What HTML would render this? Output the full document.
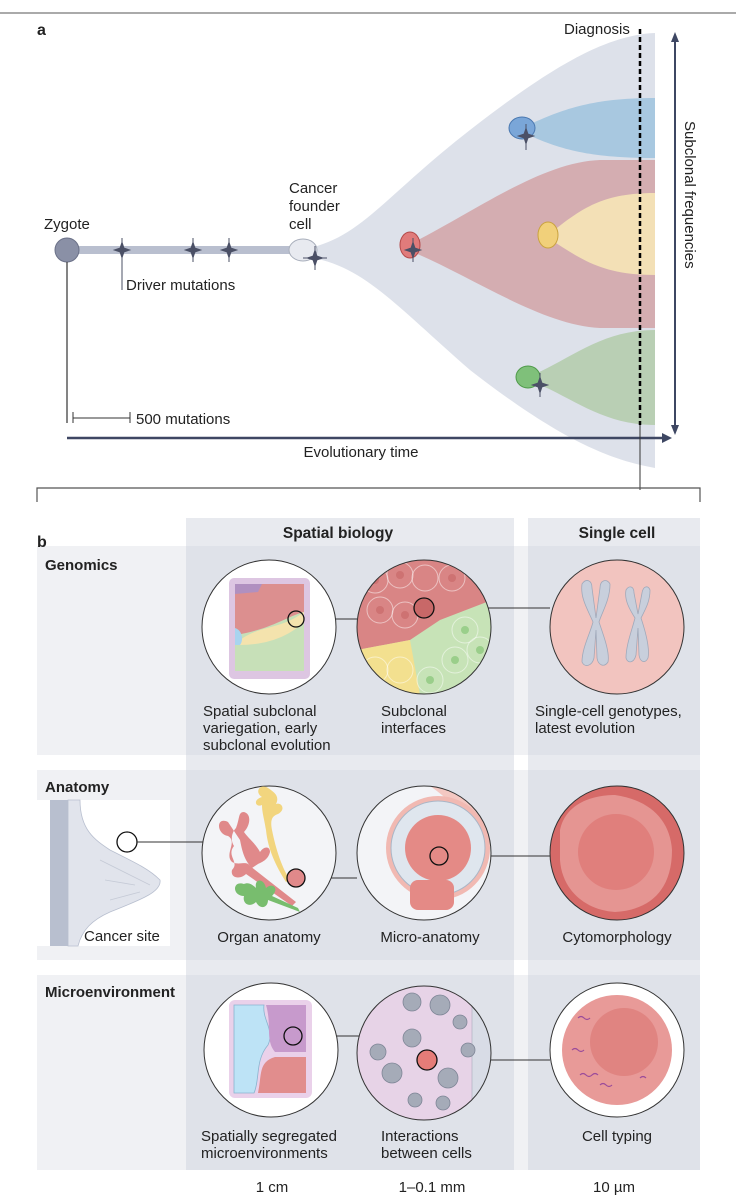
<!DOCTYPE html>
<html><head><meta charset="utf-8"><style>
html,body{margin:0;padding:0;background:#fff;overflow:hidden}
svg{display:block}
text{font-family:"Liberation Sans",sans-serif;fill:#222}
</style></head><body>
<svg width="736" height="1200" viewBox="0 0 736 1200" xmlns="http://www.w3.org/2000/svg">
<defs>
<clipPath id="c1"><circle cx="424" cy="627" r="67"/></clipPath>
<clipPath id="c5"><circle cx="424" cy="853" r="67"/></clipPath>
<clipPath id="c8"><circle cx="424" cy="1053" r="67"/></clipPath>
</defs>
<line x1="0" y1="13" x2="736" y2="13" stroke="#777" stroke-width="1.2"/>
<text x="37" y="35" font-size="16" font-weight="bold">a</text>

<path d="M300,250 C360,240 380,200 470,130 C560,60 610,35 655,33 L655,468 C610,460 560,440 470,370 C390,300 360,262 300,256 Z" fill="#dde1ea"/>
<path d="M522,128 C560,110 590,98 655,98 L655,158 C590,158 560,150 522,132 Z" fill="#a8c8e0"/>
<path d="M408,245 C470,215 540,162 600,160 L655,160 L655,328 L600,328 C540,325 470,275 408,250 Z" fill="#d4adb1"/>
<path d="M548,235 C580,210 600,193 655,193 L655,275 C600,275 580,258 548,238 Z" fill="#f3e0b6"/>
<path d="M528,377 C570,360 600,330 655,330 L655,425 C600,425 570,395 528,380 Z" fill="#b9cfb4"/>
<ellipse cx="522" cy="128" rx="13" ry="11" fill="#7aa6d8" stroke="#4a78b0"/>
<ellipse cx="410" cy="245" rx="10" ry="13" fill="#e07b7b" stroke="#b44a4a"/>
<ellipse cx="548" cy="235" rx="10" ry="13" fill="#f1d07a" stroke="#caa340"/>
<ellipse cx="528" cy="377" rx="12" ry="11" fill="#7fc07a" stroke="#4f9a4a"/>
<rect x="67" y="246" width="235" height="8" fill="#b9bfcf"/>
<circle cx="67" cy="250" r="12" fill="#8a90a6" stroke="#6b7188"/>
<ellipse cx="303" cy="250" rx="14" ry="11" fill="#e8eaf0" stroke="#a8aebb"/>
<g fill="#4b5066" stroke="#4b5066" stroke-width="0.8">
<path transform="translate(122,250)" d="M0,-8 L2,-2 L8,0 L2,2 L0,8 L-2,2 L-8,0 L-2,-2Z"/>
<path transform="translate(193,250)" d="M0,-8 L2,-2 L8,0 L2,2 L0,8 L-2,2 L-8,0 L-2,-2Z"/>
<path transform="translate(229,250)" d="M0,-8 L2,-2 L8,0 L2,2 L0,8 L-2,2 L-8,0 L-2,-2Z"/>
<path transform="translate(315,258)" d="M0,-8 L2,-2 L8,0 L2,2 L0,8 L-2,2 L-8,0 L-2,-2Z"/>
<path transform="translate(413,250)" d="M0,-8 L2,-2 L8,0 L2,2 L0,8 L-2,2 L-8,0 L-2,-2Z"/>
<path transform="translate(526,136)" d="M0,-8 L2,-2 L8,0 L2,2 L0,8 L-2,2 L-8,0 L-2,-2Z"/>
<path transform="translate(540,385)" d="M0,-8 L2,-2 L8,0 L2,2 L0,8 L-2,2 L-8,0 L-2,-2Z"/>
</g>
<g stroke="#4b5066" stroke-width="1">
<line x1="122" y1="238" x2="122" y2="290"/><line x1="193" y1="238" x2="193" y2="262"/><line x1="229" y1="238" x2="229" y2="262"/>
<line x1="315" y1="246" x2="315" y2="270"/><line x1="303" y1="258" x2="327" y2="258"/>
<line x1="413" y1="238" x2="413" y2="262"/><line x1="526" y1="124" x2="526" y2="150"/><line x1="540" y1="373" x2="540" y2="397"/>
</g>
<g font-size="15">
<text x="44" y="229">Zygote</text>
<text x="126" y="290">Driver mutations</text>
<text x="289" y="193">Cancer</text>
<text x="289" y="211">founder</text>
<text x="289" y="229">cell</text>
</g>
<line x1="67" y1="262" x2="67" y2="423" stroke="#333" stroke-width="1.2"/>
<line x1="73" y1="412" x2="73" y2="423" stroke="#333"/><line x1="73" y1="418" x2="130" y2="418" stroke="#333"/><line x1="130" y1="412" x2="130" y2="423" stroke="#333"/>
<text x="136" y="424" font-size="15">500 mutations</text>
<line x1="67" y1="438" x2="664" y2="438" stroke="#3e4763" stroke-width="2.5"/>
<path d="M672,438 L662,433 L662,443Z" fill="#3e4763"/>
<text x="361" y="457" font-size="15" text-anchor="middle">Evolutionary time</text>
<line x1="675" y1="40" x2="675" y2="427" stroke="#3e4763" stroke-width="2"/>
<path d="M675,32 L671,42 L679,42Z M675,435 L671,425 L679,425Z" fill="#3e4763"/>
<text transform="translate(685,121) rotate(90)" font-size="15">Subclonal frequencies</text>
<text x="564" y="34" font-size="15">Diagnosis</text>
<line x1="640" y1="29" x2="640" y2="425" stroke="#000" stroke-width="2.5" stroke-dasharray="5,3"/>
<line x1="640" y1="425" x2="640" y2="490" stroke="#333"/>
<path d="M37,502 L37,488 L700,488 L700,502" fill="none" stroke="#555" stroke-width="1.2"/>

<rect x="186" y="518" width="328" height="652" fill="#e8eaef"/>
<rect x="528" y="518" width="172" height="652" fill="#e8eaef"/>
<rect x="37" y="546" width="663" height="209" fill="#f0f1f4"/>
<rect x="37" y="770" width="663" height="190" fill="#f0f1f4"/>
<rect x="37" y="975" width="663" height="195" fill="#f0f1f4"/>
<g fill="#dfe2e9">
<rect x="186" y="546" width="328" height="209"/><rect x="528" y="546" width="172" height="209"/>
<rect x="186" y="770" width="328" height="190"/><rect x="528" y="770" width="172" height="190"/>
<rect x="186" y="975" width="328" height="195"/><rect x="528" y="975" width="172" height="195"/>
</g>
<text x="37" y="547" font-size="16" font-weight="bold">b</text>
<text x="338" y="538" font-size="15.5" font-weight="bold" text-anchor="middle">Spatial biology</text>
<text x="617" y="538" font-size="15.5" font-weight="bold" text-anchor="middle">Single cell</text>
<text x="45" y="570" font-size="15" font-weight="bold">Genomics</text>
<text x="45" y="792" font-size="15" font-weight="bold">Anatomy</text>
<text x="45" y="997" font-size="15" font-weight="bold">Microenvironment</text>

<!-- Genomics -->
<line x1="304" y1="619" x2="357" y2="619" stroke="#333"/>
<line x1="434" y1="608" x2="550" y2="608" stroke="#333"/>
<circle cx="269" cy="627" r="67" fill="#fff" stroke="#333"/>
<rect x="229" y="578" width="81" height="101" rx="5" fill="#ddc6e2"/>
<rect x="235" y="584" width="69" height="87" fill="#c7e0b8"/>
<path d="M235,584 L304,584 L304,612 C290,615 270,630 235,635Z" fill="#dc8f8f"/>
<path d="M240,640 C260,625 280,630 304,612 L304,622 C285,640 260,645 240,645Z" fill="#f4e3ad"/>
<path d="M235,584 L262,584 L258,592 L235,594Z" fill="#b090c0"/>
<path d="M235,628 C242,630 244,640 240,645 L235,645Z" fill="#a8d4ef"/>
<circle cx="296" cy="619" r="8" fill="none" stroke="#111" stroke-width="1.3"/>
<g clip-path="url(#c1)">
<rect x="357" y="560" width="135" height="135" fill="#c7e3b7"/>
<path d="M357,560 L492,560 L492,600 L440,620 L410,640 L357,650Z" fill="#d98585"/>
<path d="M357,650 L410,640 L420,695 L357,695Z" fill="#f3e08f"/>
<g fill="none" stroke="#fff" stroke-opacity="0.5" stroke-width="1">
<circle cx="375" cy="580" r="13"/><circle cx="400" cy="575" r="13"/><circle cx="425" cy="578" r="13"/><circle cx="452" cy="578" r="13"/><circle cx="380" cy="610" r="13"/><circle cx="405" cy="615" r="13"/><circle cx="465" cy="630" r="13"/><circle cx="455" cy="660" r="13"/><circle cx="480" cy="650" r="13"/><circle cx="375" cy="670" r="13"/><circle cx="400" cy="670" r="13"/><circle cx="430" cy="680" r="13"/>
</g>
<g fill="#c96a6a" opacity="0.7"><circle cx="375" cy="580" r="4"/><circle cx="400" cy="575" r="4"/><circle cx="452" cy="578" r="4"/><circle cx="380" cy="610" r="4"/><circle cx="405" cy="615" r="4"/></g>
<g fill="#8fc97f" opacity="0.8"><circle cx="465" cy="630" r="4"/><circle cx="455" cy="660" r="4"/><circle cx="480" cy="650" r="4"/><circle cx="430" cy="680" r="4"/></g>
</g>
<circle cx="424" cy="627" r="67" fill="none" stroke="#333"/>
<circle cx="424" cy="608" r="10" fill="#c86868" stroke="#111" stroke-width="1.3"/>
<circle cx="617" cy="627" r="67" fill="#f2c4bf" stroke="#333"/>
<g fill="#c8cfdc" stroke="#a0a9ba" stroke-width="0.8">
<path d="M582,584 C586,578 592,580 592,588 L596,618 L600,588 C600,580 607,578 610,584 C610,600 602,612 599,622 C603,634 610,652 608,662 C604,668 598,665 597,658 L596,630 L594,658 C592,666 585,668 582,662 C582,648 590,634 593,622 C588,610 580,598 582,584Z"/>
<path d="M626,590 C629,585 634,586 634,593 L638,614 L642,593 C643,586 648,585 650,590 C650,602 645,610 641,618 C645,630 650,648 648,658 C645,664 640,662 639,655 L638,628 L636,655 C634,663 628,664 626,658 C626,645 632,630 635,618 C630,610 624,600 626,590Z"/>
</g>
<g font-size="15">
<text x="203" y="716">Spatial subclonal</text><text x="203" y="733">variegation, early</text><text x="203" y="750">subclonal evolution</text>
<text x="381" y="716">Subclonal</text><text x="381" y="733">interfaces</text>
<text x="535" y="716">Single-cell genotypes,</text><text x="535" y="733">latest evolution</text>
</g>

<!-- Anatomy -->
<rect x="37" y="800" width="133" height="146" fill="#fff"/>
<path d="M68,800 L80,800 C80,830 95,840 110,850 C140,865 150,870 160,880 C162,892 140,900 110,912 C92,920 82,930 78,946 L68,946Z" fill="#e1e4ec" stroke="#b8bfcf" stroke-width="0.8"/>
<rect x="50" y="800" width="18" height="146" fill="#b8bfcf"/>
<g fill="none" stroke="#c5cad6" stroke-width="0.8"><path d="M100,860 L130,875 L150,885 M105,880 L135,885 M110,900 L140,892"/></g>
<circle cx="127" cy="842" r="10" fill="none" stroke="#111" stroke-width="1.3"/>
<text x="84" y="941" font-size="15">Cancer site</text>
<line x1="137" y1="842" x2="203" y2="842" stroke="#333"/>
<line x1="304" y1="878" x2="357" y2="878" stroke="#333"/>
<line x1="448" y1="856" x2="550" y2="856" stroke="#333"/>
<circle cx="269" cy="853" r="67" fill="#f3f4f7" stroke="#333"/>
<path d="M262,797 C254,792 260,783 268,788 C274,792 280,796 276,804 C282,802 286,810 278,814 C272,816 270,820 272,830 C276,850 282,868 290,880 L286,882 C276,866 268,850 266,830 C264,818 262,812 262,805 C256,808 252,800 262,797Z" fill="#f2d57e"/>
<path d="M228,822 C216,816 216,834 228,836 C238,842 224,854 232,862 C240,866 246,860 250,866 L296,902 L292,906 L246,874 C240,880 230,878 232,870 C240,862 226,856 234,846 C230,840 232,832 236,828 C240,818 238,812 244,812 C252,814 250,826 244,832 C248,838 256,844 260,852 C264,846 270,846 270,852 C268,860 262,862 258,864 L252,868 C244,860 242,850 240,840Z" fill="#e0898a"/>
<path d="M244,884 C232,880 232,896 244,896 C242,904 250,908 256,902 C260,910 268,908 268,900 L300,912 L298,908 L272,896 C280,888 272,882 266,888 C264,878 254,878 256,888 C252,884 248,882 244,884Z" fill="#78bd6e"/>
<circle cx="296" cy="878" r="9" fill="#e0898a" stroke="#111" stroke-width="1.3"/>
<g clip-path="url(#c5)">
<rect x="357" y="786" width="135" height="135" fill="#f3f4f7"/>
<path d="M430,786 L492,786 L492,840 C470,820 450,800 430,786Z" fill="#f4c8c2"/>
</g>
<circle cx="438" cy="848" r="52" fill="#f1b9b2"/>
<circle cx="438" cy="848" r="47" fill="#dfe6ee" stroke="#aab6c6"/>
<circle cx="438" cy="848" r="33" fill="#e48a86"/>
<rect x="410" y="880" width="44" height="30" rx="8" fill="#e48a86"/>
<circle cx="424" cy="853" r="67" fill="none" stroke="#333"/>
<circle cx="439" cy="856" r="9" fill="none" stroke="#111" stroke-width="1.3"/>
<circle cx="617" cy="853" r="67" fill="#d66a68" stroke="#333"/>
<path d="M560,830 C565,805 590,795 615,795 C650,800 670,820 672,850 C672,890 650,910 615,912 C585,910 562,890 560,860Z" fill="#e59592"/>
<circle cx="616" cy="852" r="38" fill="#e07f7c"/>
<g font-size="15">
<text x="269" y="942" text-anchor="middle">Organ anatomy</text>
<text x="430" y="942" text-anchor="middle">Micro-anatomy</text>
<text x="617" y="942" text-anchor="middle">Cytomorphology</text>
</g>

<!-- Microenvironment -->
<line x1="301" y1="1036" x2="362" y2="1036" stroke="#333"/>
<line x1="436" y1="1060" x2="550" y2="1060" stroke="#333"/>
<circle cx="271" cy="1050" r="67" fill="#fff" stroke="#333"/>
<rect x="229" y="1000" width="83" height="98" rx="6" fill="#ead1ea"/>
<path d="M234,1005 L264,1005 C262,1020 275,1030 268,1045 C255,1060 260,1080 254,1093 L234,1093Z" fill="#bde3f6" stroke="#8ab4cf" stroke-width="0.8"/>
<path d="M266,1005 L306,1005 L306,1052 L275,1052 C265,1040 272,1025 266,1005Z" fill="#c79acc"/>
<path d="M275,1057 L306,1057 L306,1093 L258,1093 C262,1075 258,1062 275,1057Z" fill="#e18d8d"/>
<circle cx="293" cy="1036" r="9" fill="none" stroke="#111" stroke-width="1.3"/>
<g clip-path="url(#c8)">
<rect x="357" y="986" width="135" height="135" fill="#e7d3e7"/>
<rect x="472" y="986" width="25" height="135" fill="#d8dce6" stroke="#aab" stroke-width="0.6"/>
<g fill="#a5abb8" stroke="#7e8596" stroke-width="0.8">
<circle cx="412" cy="1002" r="9"/><circle cx="440" cy="1005" r="10"/><circle cx="460" cy="1022" r="7"/><circle cx="412" cy="1038" r="9"/><circle cx="378" cy="1052" r="8"/><circle cx="468" cy="1050" r="7"/><circle cx="392" cy="1073" r="10"/><circle cx="448" cy="1078" r="10"/><circle cx="415" cy="1100" r="7"/><circle cx="443" cy="1103" r="7"/>
</g>
</g>
<circle cx="424" cy="1053" r="67" fill="none" stroke="#333"/>
<circle cx="427" cy="1060" r="10" fill="#e57c78" stroke="#111" stroke-width="1.3"/>
<circle cx="617" cy="1050" r="67" fill="#fff" stroke="#333"/>
<circle cx="617" cy="1050" r="55" fill="#e89a98"/>
<circle cx="624" cy="1042" r="34" fill="#e08481"/>
<g fill="none" stroke="#9a4b9a" stroke-width="1.2">
<path d="M578,1018 q3,-3 6,0 q3,3 6,0"/><path d="M572,1050 q3,-3 6,0 q3,3 6,0"/><path d="M580,1075 q3,-3 6,0 q3,3 6,0 q3,-3 6,0"/><path d="M600,1085 q3,-3 6,0 q3,3 6,0"/><path d="M640,1078 q3,-3 6,0"/>
</g>
<g font-size="15">
<text x="201" y="1141">Spatially segregated</text><text x="201" y="1158">microenvironments</text>
<text x="381" y="1141">Interactions</text><text x="381" y="1158">between cells</text>
<text x="617" y="1141" text-anchor="middle">Cell typing</text>
</g>
<g font-size="15" text-anchor="middle">
<text x="272" y="1192">1 cm</text><text x="432" y="1192">1–0.1 mm</text><text x="614" y="1192">10 µm</text>
</g>
</svg>
</body></html>
